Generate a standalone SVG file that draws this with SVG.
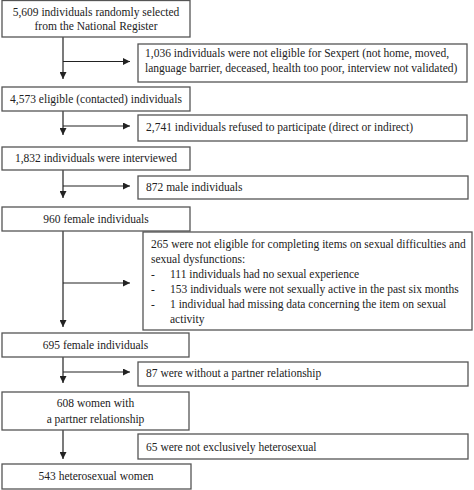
<svg xmlns="http://www.w3.org/2000/svg" width="474" height="490" viewBox="0 0 474 490">
<defs>
<style>
.box{fill:#fff;stroke:#555;stroke-width:1.3}
.t{font-family:"Liberation Serif","Times New Roman",Times,serif;font-size:11.5px;fill:#222}
.c{text-anchor:middle}
.ln{stroke:#222;stroke-width:1.2;fill:none}
</style>
<marker id="ah" viewBox="0 0 8 8" refX="8" refY="4" markerWidth="7" markerHeight="7" markerUnits="userSpaceOnUse" orient="auto">
<path d="M0,0 L8,4 L0,8 Z" fill="#222"/>
</marker>
</defs>
<rect width="474" height="490" fill="#fff"/>
<g id="connectors">
<path class="ln" d="M63,37 V79" marker-end="url(#ah)"/>
<path class="ln" d="M63,61.5 H130" marker-end="url(#ah)"/>
<path class="ln" d="M63,111 V135" marker-end="url(#ah)"/>
<path class="ln" d="M63,126 H130" marker-end="url(#ah)"/>
<path class="ln" d="M63,170 V198" marker-end="url(#ah)"/>
<path class="ln" d="M63,186 H130" marker-end="url(#ah)"/>
<path class="ln" d="M63,231 V327" marker-end="url(#ah)"/>
<path class="ln" d="M63,283 H130" marker-end="url(#ah)"/>
<path class="ln" d="M63,357 V383" marker-end="url(#ah)"/>
<path class="ln" d="M63,372 H130" marker-end="url(#ah)"/>
<path class="ln" d="M63,430 V459" marker-end="url(#ah)"/>
</g>
<g id="n1">
<rect class="box" x="2" y="0.5" width="188" height="36.5"/>
<text class="t c" x="96" y="16">5,609 individuals randomly selected</text>
<text class="t c" x="96" y="30">from the National Register</text>
</g>
<g id="n2">
<rect class="box" x="138" y="44" width="329" height="38"/>
<text class="t" x="145" y="57">1,036 individuals were not eligible for Sexpert (not home, moved,</text>
<text class="t" x="145" y="72">language barrier, deceased, health too poor, interview not validated)</text>
</g>
<g id="n3">
<rect class="box" x="2" y="87" width="188" height="24"/>
<text class="t c" x="96" y="103">4,573 eligible (contacted) individuals</text>
</g>
<g id="n4">
<rect class="box" x="138" y="115" width="329" height="26"/>
<text class="t" x="146" y="131">2,741 individuals refused to participate (direct or indirect)</text>
</g>
<g id="n5">
<rect class="box" x="2" y="147" width="188" height="23"/>
<text class="t c" x="96" y="162">1,832 individuals were interviewed</text>
</g>
<g id="n6">
<rect class="box" x="138" y="176" width="330" height="23"/>
<text class="t" x="146" y="191">872 male individuals</text>
</g>
<g id="n7">
<rect class="box" x="2" y="207" width="188" height="24"/>
<text class="t c" x="96" y="223">960 female individuals</text>
</g>
<g id="n8">
<rect class="box" x="143" y="232" width="329" height="98"/>
<text class="t" x="151" y="248">265 were not eligible for completing items on sexual difficulties and</text>
<text class="t" x="151" y="263">sexual dysfunctions:</text>
<text class="t" x="151" y="278">-</text>
<text class="t" x="170" y="278">111 individuals had no sexual experience</text>
<text class="t" x="151" y="293">-</text>
<text class="t" x="170" y="293">153 individuals were not sexually active in the past six months</text>
<text class="t" x="151" y="308">-</text>
<text class="t" x="170" y="308">1 individual had missing data concerning the item on sexual</text>
<text class="t" x="170" y="323">activity</text>
</g>
<g id="n9">
<rect class="box" x="2" y="333" width="187" height="24"/>
<text class="t c" x="95.5" y="349">695 female individuals</text>
</g>
<g id="n10">
<rect class="box" x="138" y="362" width="330" height="24"/>
<text class="t" x="146" y="377">87 were without a partner relationship</text>
</g>
<g id="n11">
<rect class="box" x="2" y="392" width="187" height="38"/>
<text class="t c" x="95.5" y="407">608 women with</text>
<text class="t c" x="95.5" y="423">a partner relationship</text>
</g>
<g id="n12">
<rect class="box" x="138" y="434" width="330" height="25"/>
<text class="t" x="146" y="451">65 were not exclusively heterosexual</text>
</g>
<g id="n13">
<rect class="box" x="2" y="464" width="189" height="25"/>
<text class="t c" x="96" y="480">543 heterosexual women</text>
</g>
</svg>
